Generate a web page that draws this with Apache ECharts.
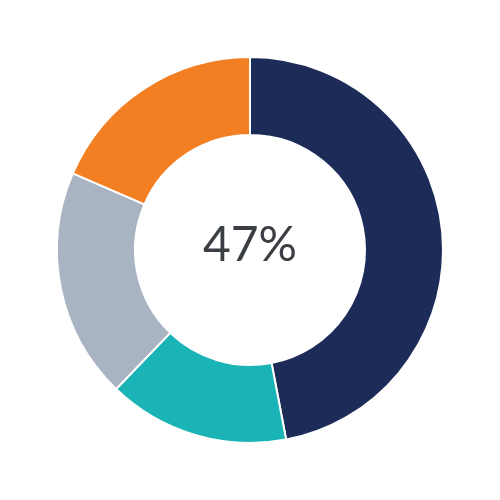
<!DOCTYPE html>
<html><head><meta charset="utf-8">
<script src="https://cdn.jsdelivr.net/npm/echarts@6/dist/echarts.min.js"></script>
<style>html,body{margin:0;padding:0;background:#fff}#c{width:500px;height:500px}</style>
</head><body><div id="c"></div>
<script>
const categories = ['A', 'B', 'C', 'D'];
const values = [47, 15.2, 19.3, 18.5];
const colors = ['#1c2b58', '#1bb4b6', '#a9b4c2', '#f27f21'];
const centerLabel = '47%';

const chart = echarts.init(document.getElementById('c'), null, {renderer: 'canvas'});
chart.setOption({
  animation: false,
  backgroundColor: '#ffffff',
  graphic: [{
    type: 'text', left: 'center', top: 222,
    style: {text: centerLabel, fill: '#3b3f44', font: 'normal 48px Lato', textAlign: 'center'}
  }],
  series: [{
    type: 'pie',
    center: [250, 250],
    radius: [115, 193],
    startAngle: 90,
    clockwise: true,
    label: {show: false},
    labelLine: {show: false},
    itemStyle: {borderColor: '#ffffff', borderWidth: 2},
    emphasis: {disabled: true},
    data: categories.map((c, i) => ({name: c, value: values[i], itemStyle: {color: colors[i]}}))
  }]
});
</script></body></html>
